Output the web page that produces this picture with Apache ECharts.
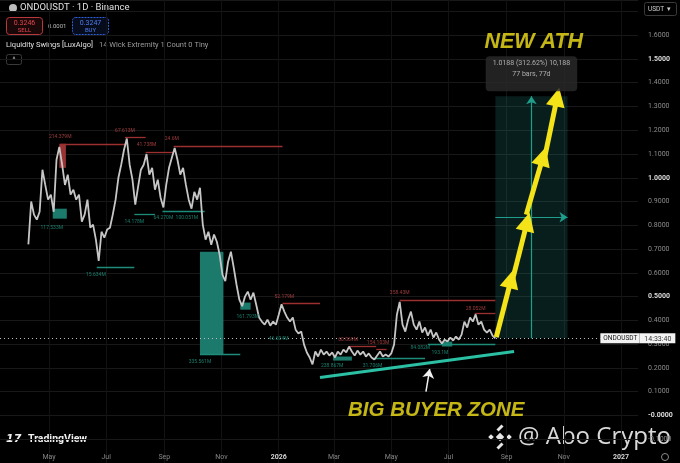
<!DOCTYPE html>
<html><head><meta charset="utf-8">
<script src="https://cdn.jsdelivr.net/npm/echarts@6/dist/echarts.min.js"></script>
<style>html,body{margin:0;padding:0;background:#000;}#c{width:680px;height:463px;}</style>
</head><body><div id="c"></div><script>
const DAY = 86400000;
function T(s){const p=s.split('-');return Date.UTC(+p[0],+p[1]-1,+p[2]);}

// ---------- DATA ----------
const startDate = '2025-04-09';
const stepDays = 3;
const closes = [
0.72,0.90,0.845,0.824,0.857,1.034,0.97,0.908,0.929,0.857,
1.076,1.13,1.055,0.97,1.013,0.929,0.95,0.908,0.929,0.815,
0.845,0.908,0.79,0.803,0.74,0.65,0.773,0.748,0.782,0.79,
0.845,0.908,1.0,1.055,1.118,1.165,1.055,0.992,0.887,0.962,
1.034,1.055,1.10,1.013,1.042,0.95,0.992,0.916,0.875,0.97,
1.042,1.084,1.125,1.076,1.013,1.042,0.97,0.908,0.87,0.941,
0.908,0.958,0.803,0.74,0.773,0.718,0.761,0.731,0.676,0.592,
0.565,0.647,0.689,0.622,0.55,0.487,0.46,0.5,0.521,0.487,
0.517,0.466,0.412,0.395,0.382,0.403,0.378,0.395,0.382,0.424,
0.468,0.437,0.412,0.395,0.412,0.361,0.345,0.353,0.298,0.265,
0.244,0.215,0.269,0.248,0.277,0.256,0.269,0.252,0.265,0.244,
0.269,0.256,0.277,0.265,0.29,0.269,0.252,0.273,0.256,0.269,
0.248,0.261,0.244,0.235,0.252,0.269,0.248,0.256,0.248,0.261,
0.298,0.424,0.478,0.382,0.353,0.403,0.437,0.382,0.361,0.395,
0.349,0.37,0.336,0.361,0.328,0.349,0.319,0.303,0.319,0.311,
0.328,0.315,0.332,0.319,0.34,0.395,0.37,0.412,0.395,0.425,
0.382,0.395,0.361,0.349,0.361,0.336,0.3246
];

const xTickDates = ['2025-05-01','2025-07-01','2025-09-01','2025-11-01','2026-01-01','2026-03-01','2026-05-01','2026-07-01','2026-09-01','2026-11-01','2027-01-01'];
const xTickLabels = ['May','Jul','Sep','Nov','2026','Mar','May','Jul','Sep','Nov','2027'];
const yBoldTicks = ['1.5000','1.0000','0.5000','-0.0000'];

// liquidity levels: [from, to, price]
const redLevels = [
 ['2025-05-13','2025-07-21',1.143],
 ['2025-07-21','2025-08-12',1.172],
 ['2025-08-12','2025-09-11',1.109],
 ['2025-09-11','2026-01-05',1.134],
 ['2026-01-05','2026-02-14',0.471],
 ['2026-03-18','2026-04-15',0.290],
 ['2026-04-15','2026-04-26',0.277],
 ['2026-05-10','2026-08-20',0.483],
 ['2026-07-29','2026-08-20',0.429]
];
const greenLevels = [
 ['2025-06-21','2025-07-31',0.622],
 ['2025-07-31','2025-08-22',0.845],
 ['2025-08-30','2025-10-14',0.861],
 ['2025-10-09','2025-11-21',0.256],
 ['2026-04-11','2026-06-06',0.240],
 ['2026-06-09','2026-08-20',0.300]
];
// boxes: [from, to, priceA, priceB]
const redBoxes = [['2025-05-12','2025-05-19',1.143,1.042]];
const greenBoxes = [
 ['2025-05-05','2025-05-20',0.870,0.828],
 ['2025-10-09','2025-11-03',0.689,0.256],
 ['2025-11-21','2025-12-02',0.475,0.445],
 ['2026-02-28','2026-03-20',0.248,0.231],
 ['2026-06-24','2026-07-05',0.311,0.290]
];
// labels: [date, price, text]
const redLabels = [
 ['2025-05-13',1.172,'214.379M'],
 ['2025-07-21',1.197,'67.613M'],
 ['2025-08-13',1.139,'41.738M'],
 ['2025-09-09',1.164,'24.6M'],
 ['2026-01-07',0.500,'52.179M'],
 ['2026-03-16',0.319,'60.069M'],
 ['2026-04-17',0.307,'154.103M'],
 ['2026-05-10',0.517,'358.43M'],
 ['2026-07-30',0.450,'28.052M']
];
const greenLabels = [
 ['2025-05-04',0.790,'117.533M'],
 ['2025-06-20',0.592,'15.634M'],
 ['2025-07-31',0.815,'14.178M'],
 ['2025-08-31',0.832,'64.270M'],
 ['2025-09-25',0.832,'100.051M'],
 ['2025-10-09',0.227,'335.561M'],
 ['2025-11-29',0.416,'161.793M'],
 ['2026-01-01',0.324,'46.604M'],
 ['2026-02-27',0.210,'238.867M'],
 ['2026-04-11',0.210,'31.706M'],
 ['2026-06-01',0.286,'84.082M'],
 ['2026-06-22',0.265,'193.1M']
];
const trendLine = [['2026-02-14',0.160],['2026-09-09',0.269]];
const yellowArrows = [
 [['2026-08-21',0.330],['2026-09-06',0.575]],
 [['2026-09-06',0.550],['2026-09-23',0.815]],
 [['2026-09-22',0.845],['2026-10-10',1.090]],
 [['2026-10-10',1.055],['2026-10-25',1.340]]
];
const whiteArrow = [['2026-06-07',0.100],['2026-06-11',0.195]];
const projBars = 77;
const projChange = 1.0188;
const projText = ['1.0188 (312.62%) 10,188','77 bars, 77d'];
const headline = ['NEW ATH','2026-09-30',1.571];
const zoneText = ['BIG BUYER ZONE','2026-06-18',0.021];
const priceTagEnd = '2026-12-10';
const tagText = ['ONDOUSDT','14:33:40'];

// ---------- BUILD ----------
const t0 = T(startDate);
const priceData = closes.map((v,i)=>[t0+i*stepDays*DAY, v]);
const lastT = priceData[priceData.length-1][0];
const lastP = closes[closes.length-1];
const projEndT = lastT + projBars*DAY;
const projTop = lastP + projChange;
const projMidT = lastT + projBars*DAY/2;
const projMidP = (lastP + projTop)/2;
const tMin = T('2025-05-01') - 52.26*DAY;
const tMax = tMin + 680.4*DAY;
const tickTs = xTickDates.map(T);

const YEL = '#f5e31a', RED='#9c2f2f', GRN='#1e8c7a';
const toLines = (arr)=>arr.map(a=>({coords:[[T(a[0]),a[2]],[T(a[1]),a[2]]]}));
const toArea = (arr,color)=>arr.map(a=>[{coord:[T(a[0]),a[2]],itemStyle:{color:color}},{coord:[T(a[1]),a[3]]}]);
const toLbl = (arr)=>arr.map(a=>({value:[T(a[0]),a[1]],name:a[2]}));

const chart = echarts.init(document.getElementById('c'));
const option = {
 backgroundColor:'#000',
 animation:false,
 grid:{left:0,right:42,top:0,bottom:0},
 xAxis:{type:'value',min:tMin,max:tMax,
  axisLine:{show:false},axisTick:{show:false,customValues:tickTs},
  axisLabel:{customValues:tickTs,inside:true,margin:2,color:'#858585',fontSize:7,fontFamily:'Roboto',
   formatter:(v)=>{const i=tickTs.indexOf(v);const s=i>=0?xTickLabels[i]:'';return /^\d{4}$/.test(s)?'{y|'+s+'}':s;},
   rich:{y:{color:'#d6d6d6',fontWeight:'bold',fontSize:7,fontFamily:'Roboto'}}},
  splitLine:{show:true,lineStyle:{color:'#121212',width:1}}},
 yAxis:{type:'value',position:'right',min:-0.2,max:1.748,interval:0.1,
  axisLine:{show:false},axisTick:{show:false},
  splitLine:{lineStyle:{color:'#181818',width:1}},
  axisLabel:{margin:10,color:'#8c8c8c',fontSize:7,fontFamily:'Roboto',showMaxLabel:false,
   formatter:(v)=>{if(v>1.65||v<-0.15)return '';let s=Math.abs(v)<1e-9?'-0.0000':v.toFixed(4);return yBoldTicks.indexOf(s)>=0?'{b|'+s+'}':s;},
   rich:{b:{color:'#dcdcdc',fontWeight:'bold',fontSize:7,fontFamily:'Roboto'}}}},
 series:[
  {type:'line',data:priceData,showSymbol:false,z:5,
   lineStyle:{color:'#c6c6c6',width:1.8},
   markArea:{silent:true,label:{show:false},
    data:[...toArea(redBoxes,'#9a3434'),...toArea(greenBoxes,'#1b7a6b'),
     [{coord:[lastT,lastP],itemStyle:{color:'rgba(38,166,154,0.18)'}},{coord:[projEndT,projTop]}]]},
   markLine:{silent:true,symbol:['none','none'],
    data:[[{coord:[tMin,lastP],lineStyle:{color:'#bdbdbd',type:[1,3],width:1}},{coord:[T(priceTagEnd),lastP]}]],
    label:{show:true,position:'end',distance:0,formatter:'{a|'+tagText[0]+'}{b|'+tagText[1]+'}',
     rich:{a:{backgroundColor:'#f2f2f2',color:'#111',fontSize:6.5,padding:[2,2,1,3],fontFamily:'Roboto'},
           b:{backgroundColor:'#f2f2f2',color:'#333',fontSize:7,padding:[2,4,1,5],fontFamily:'Roboto'}}}}},
  {type:'lines',coordinateSystem:'cartesian2d',z:3,data:toLines(redLevels),lineStyle:{color:RED,width:1.3,opacity:1}},
  {type:'lines',coordinateSystem:'cartesian2d',z:3,data:toLines(greenLevels),lineStyle:{color:GRN,width:1.3,opacity:1}},
  {type:'scatter',symbolSize:0,z:6,data:toLbl(redLabels),label:{show:true,position:'inside',formatter:'{b}',color:'#c24848',fontSize:5,fontFamily:'Roboto'}},
  {type:'scatter',symbolSize:0,z:6,data:toLbl(greenLabels),label:{show:true,position:'inside',formatter:'{b}',color:'#1f9c86',fontSize:5,fontFamily:'Roboto'}},
  {type:'lines',coordinateSystem:'cartesian2d',z:4,data:[{coords:trendLine.map(p=>[T(p[0]),p[1]])}],lineStyle:{color:'#2bbfa4',width:3,opacity:1}},
  {type:'lines',coordinateSystem:'cartesian2d',z:4,symbol:['none','arrow'],symbolSize:[0,8],
   data:[{coords:[[projMidT,lastP],[projMidT,projTop]]},{coords:[[lastT,projMidP],[projEndT,projMidP]]}],
   lineStyle:{color:'#1f9e8c',width:1.2,opacity:1}},
  {type:'lines',coordinateSystem:'cartesian2d',z:8,symbol:['none','triangle'],symbolSize:[0,19],
   data:yellowArrows.map(a=>({coords:a.map(p=>[T(p[0]),p[1]])})),
   lineStyle:{color:YEL,width:5,opacity:1}},
  {type:'lines',coordinateSystem:'cartesian2d',z:8,symbol:['none','arrow'],symbolSize:[0,9],
   data:[{coords:whiteArrow.map(p=>[T(p[0]),p[1]])}],
   lineStyle:{color:'#f0f0f0',width:1.5,opacity:1}},
  {type:'scatter',symbolSize:0,z:9,data:[{value:[projMidT,projTop],name:projText.join('\n')}],
   label:{show:true,position:'top',distance:5,formatter:'{b}',color:'#cfcfcf',fontSize:7,lineHeight:11,align:'center',
    backgroundColor:'#2a2a2a',borderRadius:4,padding:[2,7,11,7],fontFamily:'Roboto'}},
  {type:'scatter',symbolSize:0,z:9,
   data:[{value:[T(headline[1]),headline[2]],name:headline[0],label:{fontSize:21.5}},
         {value:[T(zoneText[1]),zoneText[2]],name:zoneText[0],label:{fontSize:20.5}}],
   label:{show:true,position:'inside',formatter:'{b}',color:YEL,fontWeight:'bold',fontStyle:'italic',fontFamily:'Liberation Sans'}}
 ],
 graphic:[
  {type:'circle',shape:{cx:13,cy:8,r:4},style:{fill:'#bdbdbd'}},
  {type:'text',x:20,y:8,style:{text:'ONDOUSDT · 1D · Binance',fill:'#e0e0e0',fontSize:9.5,fontFamily:'Roboto',verticalAlign:'middle'}},
  {type:'rect',shape:{x:6.5,y:17.5,width:36,height:17,r:3},style:{fill:'#1a0808',stroke:'#b8383f',lineWidth:1}},
  {type:'text',x:24.5,y:23,style:{text:'0.3246',fill:'#e2444e',fontSize:7,fontFamily:'Roboto',align:'center',verticalAlign:'middle'}},
  {type:'text',x:24.5,y:30.5,style:{text:'SELL',fill:'#e2444e',fontSize:6,fontFamily:'Roboto',align:'center',verticalAlign:'middle'}},
  {type:'text',x:48,y:26,style:{text:'0.0001',fill:'#bbbbbb',fontSize:6,fontFamily:'Roboto',verticalAlign:'middle'}},
  {type:'rect',shape:{x:72.5,y:17.5,width:36,height:17,r:3},style:{fill:'#070c1c',stroke:'#2f5fd8',lineWidth:1,lineDash:[2,1]}},
  {type:'text',x:90.5,y:23,style:{text:'0.3247',fill:'#4d7ff0',fontSize:7,fontFamily:'Roboto',align:'center',verticalAlign:'middle'}},
  {type:'text',x:90.5,y:30.5,style:{text:'BUY',fill:'#4d7ff0',fontSize:6,fontFamily:'Roboto',align:'center',verticalAlign:'middle'}},
  {type:'text',x:6,y:45,style:{text:'Liquidity Swings [LuxAlgo]',fill:'#e0e0e0',fontSize:7.5,fontFamily:'Roboto',verticalAlign:'middle'}},
  {type:'text',x:99,y:45,style:{text:'14 Wick Extremity 1 Count 0 Tiny',fill:'#9a9a9a',fontSize:7.5,fontFamily:'Roboto',verticalAlign:'middle'}},
  {type:'rect',shape:{x:6.5,y:54.5,width:15,height:10,r:2},style:{fill:'#000',stroke:'#3a3a3a',lineWidth:1}},
  {type:'text',x:14,y:60,style:{text:'^',fill:'#cccccc',fontSize:7,fontFamily:'Roboto',align:'center',verticalAlign:'middle'}},
  {type:'rect',shape:{x:644.5,y:2.5,width:32,height:13,r:2},style:{fill:'#000',stroke:'#3a3a3a',lineWidth:1}},
  {type:'text',x:648,y:9,style:{text:'USDT  ▾',fill:'#cfcfcf',fontSize:6.5,fontFamily:'Roboto',verticalAlign:'middle'}},
  {type:'text',x:6,y:439,style:{text:'17',fill:'#f0f0f0',fontSize:11,fontWeight:'bold',fontStyle:'italic',fontFamily:'DejaVu Sans',verticalAlign:'middle'}},
  {type:'text',x:28,y:439,style:{text:'TradingView',fill:'#f0f0f0',fontSize:10.5,fontWeight:'bold',fontFamily:'Roboto',verticalAlign:'middle'}},
  {type:'rect',x:500,y:437,rotation:Math.PI/4,shape:{x:-3,y:-3,width:6,height:6},style:{fill:'#e6e6e6'}},
  {type:'rect',x:491,y:437,rotation:Math.PI/4,shape:{x:-2,y:-2,width:4,height:4},style:{fill:'#e6e6e6'}},
  {type:'rect',x:509,y:437,rotation:Math.PI/4,shape:{x:-2,y:-2,width:4,height:4},style:{fill:'#e6e6e6'}},
  {type:'rect',x:500,y:428,rotation:Math.PI/4,shape:{x:-3.5,y:-1.5,width:7,height:3},style:{fill:'#e6e6e6'}},
  {type:'rect',x:500,y:446,rotation:Math.PI/4,shape:{x:-3.5,y:-1.5,width:7,height:3},style:{fill:'#e6e6e6'}},
  {type:'text',x:518,y:437,style:{text:'@ Abo Crypto',fill:'rgba(235,235,235,0.92)',fontSize:24,fontFamily:'Open Sans',verticalAlign:'middle'}},
  {type:'circle',shape:{cx:665,cy:457,r:3.5},style:{fill:'none',stroke:'#8a8a8a',lineWidth:1}}
 ]
};
chart.setOption(option);
</script></body></html>
